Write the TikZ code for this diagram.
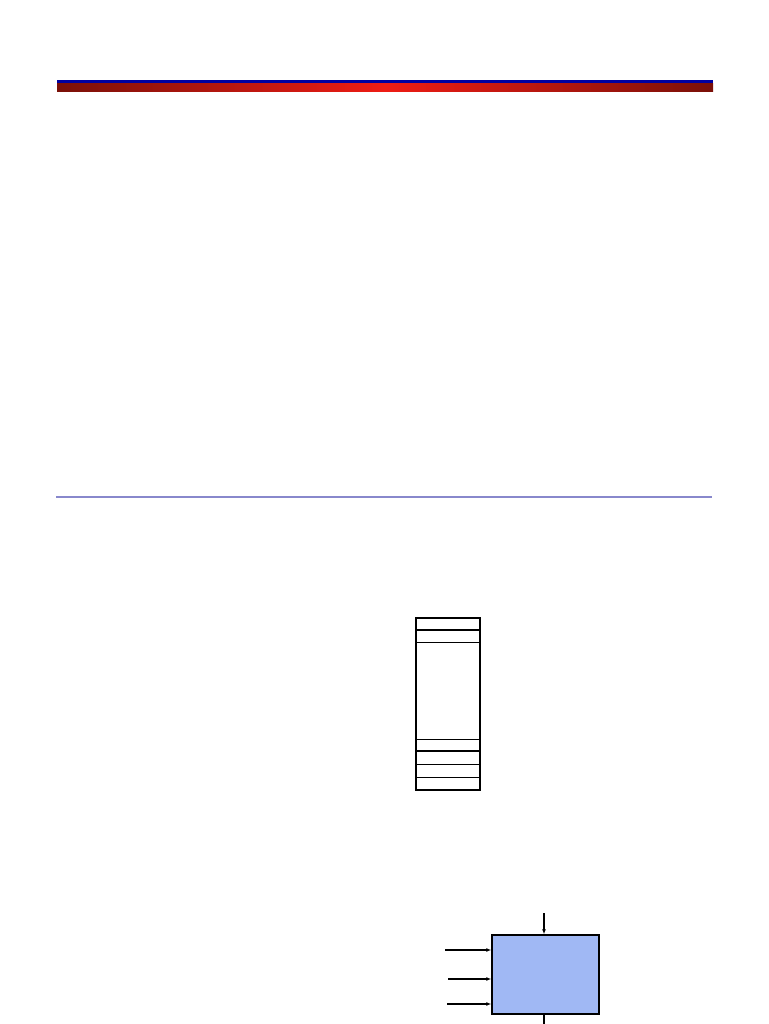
\documentclass[tikz,border=0pt]{standalone}
\usetikzlibrary{arrows.meta}
\definecolor{barblue}{HTML}{0000A0}
\definecolor{darkred}{HTML}{7A1008}
\definecolor{brightred}{HTML}{EE1C14}
\definecolor{rulecol}{HTML}{8888CC}
\definecolor{boxfill}{HTML}{A0B8F4}
\tikzset{
  stackbox/.style={draw=black, line width=1.2pt, minimum width=64pt, minimum height=172pt, inner sep=0pt},
  block/.style={draw=black, line width=1.5pt, fill=boxfill, minimum width=107pt, minimum height=79pt, inner sep=0pt},
  sep/.style={line width=0.8pt},
  thicksep/.style={line width=1.5pt},
  inarrow/.style={line width=1.2pt, -{Latex[length=5pt,width=4pt]}}
}
\begin{document}
\begin{tikzpicture}[x=1pt,y=-1pt]
\useasboundingbox (0,0) rectangle (768,1024);
\fill[white] (0,0) rectangle (768,1024);
% header bar
\fill[barblue] (57,80) rectangle (713,84);
\shade[left color=darkred, right color=darkred, middle color=brightred] (57,84) rectangle (713,92);
% rule
\draw[rulecol, line width=2pt] (56,497) -- (712,497);
% stack
\node[stackbox] (stack) at (448,704) {};
\draw[thicksep] (stack.west |- 0,630) -- (stack.east |- 0,630);
\draw[sep] (stack.west |- 0,642) -- (stack.east |- 0,642);
\draw[thicksep] (stack.west |- 0,739.5) -- (stack.east |- 0,739.5);
\draw[thicksep] (stack.west |- 0,751) -- (stack.east |- 0,751);
\draw[sep] (stack.west |- 0,764) -- (stack.east |- 0,764);
\draw[sep] (stack.west |- 0,777) -- (stack.east |- 0,777);
% block
\node[block] (blk) at (545.5,974.5) {};
\coordinate (topin) at (544,913);
\coordinate (in1) at (445,950);
\coordinate (in2) at (448,979);
\coordinate (in3) at (447,1004);
\coordinate (botout) at (544,1024);
\draw[inarrow] (topin) -- (topin |- blk.north);
\draw[inarrow] (in1) -- (in1 -| blk.west);
\draw[inarrow] (in2) -- (in2 -| blk.west);
\draw[inarrow] (in3) -- (in3 -| blk.west);
\draw[line width=1.2pt] (blk.south -| botout) -- (botout);
\end{tikzpicture}
\end{document}
